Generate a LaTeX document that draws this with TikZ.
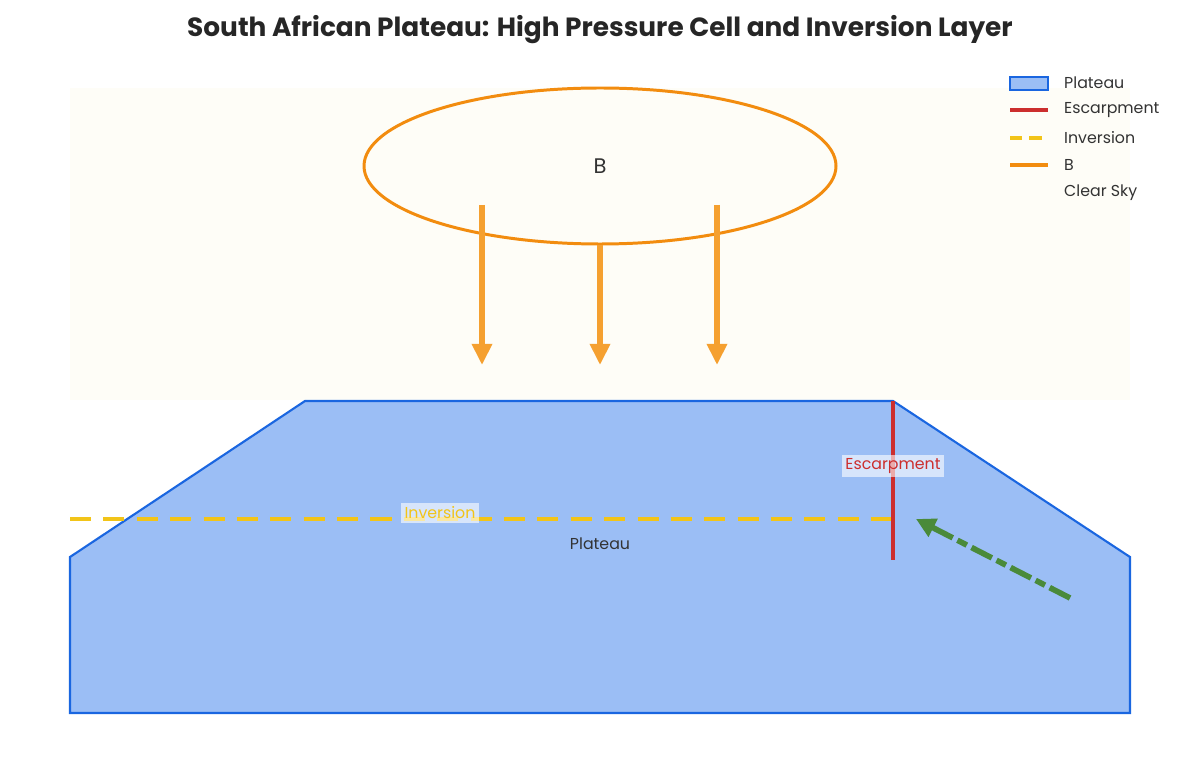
\documentclass[tikz,border=0pt]{standalone}
\usepackage{fontspec}
\setmainfont{Poppins}
\usetikzlibrary{arrows.meta}
\definecolor{skyfill}{HTML}{FEFDF7}
\definecolor{platfill}{HTML}{9BBEF5}
\definecolor{platline}{HTML}{1A66E0}
\definecolor{cellorange}{HTML}{F28C0F}
\definecolor{sinkorange}{HTML}{F5A030}
\definecolor{escred}{HTML}{CC2E2E}
\definecolor{invyellow}{HTML}{F2C418}
\definecolor{flowgreen}{HTML}{4A8A3A}
\tikzset{
  sink/.style={sinkorange, line width=3.3pt, -{Triangle[length=12pt,width=11pt]}},
  tag/.style={fill=white, fill opacity=0.6, text opacity=1, inner sep=2pt, font=\small},
  legtext/.style={anchor=west, font=\small, text=black!80},
}
\begin{document}
\begin{tikzpicture}[x=0.02cm, y=-0.02cm]
    \useasboundingbox (0,0) rectangle (1200,763);
    % Title
    \node[font=\fontsize{15}{18}\selectfont\bfseries, text=black!85] (title) at (600,30) {South African Plateau: High Pressure Cell and Inversion Layer};

    % Clear sky background
    \fill[skyfill] (70,88) rectangle (1130,400);

    % Plateau block
    \draw[platline, line width=1.2pt, fill=platfill] (70,713) -- (70,557) -- (305,401) -- (893,401) -- (1130,557) -- (1130,713) -- cycle;
    \node[font=\small, text=black!80] (plateau) at (600,544) {Plateau};

    % High pressure cell
    \draw[cellorange, line width=1.7pt] (600,166) ellipse [x radius=236, y radius=78];
    \node[font=\large, text=black!80] (cell) at (600,166) {B};

    % Subsiding air
    \coordinate (s1) at (482,205); \coordinate (e1) at (482,365);
    \coordinate (s2) at (600,245); \coordinate (e2) at (600,365);
    \coordinate (s3) at (717,205); \coordinate (e3) at (717,365);
    \draw[sink] (s1) -- (e1);
    \draw[sink] (s2) -- (e2);
    \draw[sink] (s3) -- (e3);

    % Inversion layer
    \coordinate (invL) at (70,519); \coordinate (invR) at (893,519);
    \draw[invyellow, line width=2pt, dash pattern=on 12pt off 7pt] (invL) -- (invR);
    \node[tag, text=invyellow] (inv) at (440,513) {Inversion};

    % Escarpment
    \coordinate (escT) at (893,401); \coordinate (escB) at (893,560);
    \draw[escred, line width=2pt] (escT) -- (escB);
    \node[tag, text=escred] (esc) at (893,466) {Escarpment};

    % Onshore flow
    \coordinate (flowS) at (1070,598); \coordinate (flowE) at (916,519);
    \draw[flowgreen, line width=3.2pt, dash pattern=on 13pt off 3pt on 6pt off 3pt, -{Triangle[length=11pt,width=11pt]}] (flowS) -- (flowE);

    % Legend
    \draw[platline, fill=platfill, line width=1pt] (1010,77) rectangle (1048,90);
    \node[legtext] (l1) at (1058,83) {Plateau};
    \draw[escred, line width=2pt] (1010,110) -- (1048,110);
    \node[legtext] (l2) at (1058,110) {Escarpment};
    \draw[invyellow, line width=2pt, dash pattern=on 7pt off 4pt] (1010,138) -- (1048,138);
    \node[legtext] (l3) at (1058,138) {Inversion};
    \draw[cellorange, line width=2pt] (1010,165) -- (1048,165);
    \node[legtext] (l4) at (1058,165) {B};
    \fill[skyfill] (1010,187) rectangle (1048,199);
    \node[legtext] (l5) at (1058,193) {Clear Sky};
\end{tikzpicture}
\end{document}
